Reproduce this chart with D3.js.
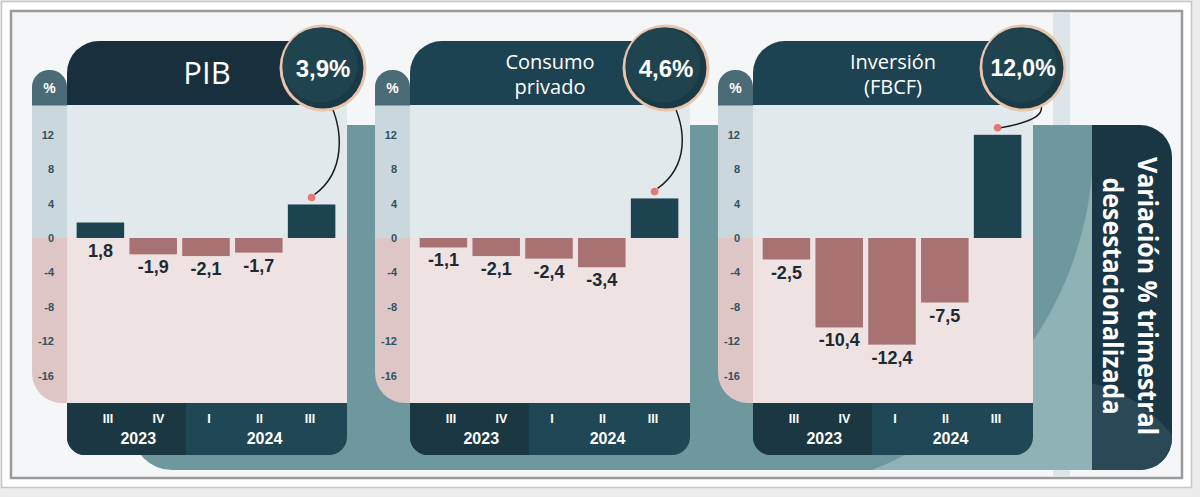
<!DOCTYPE html>
<html>
<head>
<meta charset="utf-8">
<script src="https://cdn.jsdelivr.net/npm/d3@7"></script>
<style>
  body { margin: 0; background: #fff; }
  svg { display: block; }
</style>
</head>
<body>
<div id="chart"></div>
<script>
// Datos del gráfico
const quarters = ["III", "IV", "I", "II", "III"];
const years = ["2023", "2024"];
const yearSpans = [[0, 1], [2, 4]];
const titles = [["PIB"], ["Consumo", "privado"], ["Inversión", "(FBCF)"]];
const pibValues = [1.8, -1.9, -2.1, -1.7, 3.9];
const consumoValues = [-1.1, -2.1, -2.4, -3.4, 4.6];
const inversionValues = [-2.5, -10.4, -12.4, -7.5, 12.0];
const yTicks = [12, 8, 4, 0, -4, -8, -12, -16];
const sideLabel = ["Variación % trimestral", "desestacionalizada"];

const series = [pibValues, consumoValues, inversionValues];

// Colores
const col = {
  bg: "#f4f6f8",
  teal: "#6f989e",
  tealLight: "#8fb2b7",
  stripe: "#dce5e9",
  navy: "#1a3644",
  navyLight: "#2a4855",
  tab: "#4b6b77",
  axisPos: "#cad8dd",
  axisNeg: "#dec6c6",
  plotPos: "#e2e9ec",
  plotNeg: "#efe2e2",
  bandDark: "#1a3742",
  bandLight: "#1f4755",
  barPos: "#1d4350",
  barNeg: "#a97272",
  label: "#1e2a30",
  tick: "#31525e",
  peach: "#e8c4aa",
  bubble: "#1f4450",
  bubbleShade: "#1a3b46",
  dot: "#e07a72",
};

const numFmt = d3.formatLocale({
  decimal: ",", thousands: ".", grouping: [3], currency: ["", "€"], minus: "-"
}).format(".1f");

// Rectángulo con esquinas redondeadas independientes [tl, tr, br, bl]
function roundRect(x, y, w, h, r) {
  const [tl, tr, br, bl] = r;
  return `M${x + tl},${y}H${x + w - tr}` +
    (tr ? `A${tr},${tr} 0 0 1 ${x + w},${y + tr}` : "") +
    `V${y + h - br}` +
    (br ? `A${br},${br} 0 0 1 ${x + w - br},${y + h}` : "") +
    `H${x + bl}` +
    (bl ? `A${bl},${bl} 0 0 1 ${x},${y + h - bl}` : "") +
    `V${y + tl}` +
    (tl ? `A${tl},${tl} 0 0 1 ${x + tl},${y}` : "") + "Z";
}

const width = 1200, height = 497;
const svg = d3.select("#chart").append("svg")
  .attr("width", width).attr("height", height);

// Marco
svg.append("rect").attr("x", 0).attr("y", 0).attr("width", width).attr("height", height).attr("fill", "#ececec");
svg.append("rect").attr("x", 1.5).attr("y", 1.5).attr("width", 1190).attr("height", 486)
  .attr("fill", "#fff").attr("stroke", "#c6c6c6").attr("stroke-width", 1.5);
svg.append("rect").attr("x", 11).attr("y", 11).attr("width", 1171).attr("height", 467)
  .attr("fill", col.bg).attr("stroke", "#9b9b9b").attr("stroke-width", 2.5);

// Franja clara vertical
svg.append("rect").attr("x", 1053).attr("y", 12.5).attr("width", 17).attr("height", 464)
  .attr("fill", col.stripe);

// Fondo verde azulado con el arco más claro
svg.append("clipPath").attr("id", "tealClip")
  .append("path").attr("d", roundRect(132, 125, 1040, 345, [0, 40, 40, 40]));
svg.append("path").attr("d", roundRect(132, 125, 1040, 345, [0, 40, 40, 40])).attr("fill", col.teal);
svg.append("path")
  .attr("clip-path", "url(#tealClip)")
  .attr("d", "M872,470A351,351 0 0 0 1093,160L1093,470Z")
  .attr("fill", col.tealLight);

// Caja de la etiqueta lateral
const boxPath = roundRect(1092, 125, 80, 345, [0, 32, 32, 0]);
svg.append("clipPath").attr("id", "boxClip").append("path").attr("d", boxPath);
svg.append("path").attr("d", boxPath).attr("fill", col.navy);
svg.append("path").attr("clip-path", "url(#boxClip)")
  .attr("d", "M1092,383Q1140,395 1174,437V472H1092Z").attr("fill", col.navyLight);

const sideX = [1147, 1112];
const sideLen = [278, 237];
sideLabel.forEach((t, i) => {
  svg.append("text")
    .attr("transform", `translate(${sideX[i]},296) rotate(90)`)
    .attr("text-anchor", "middle")
    .attr("dy", "0.36em")
    .attr("textLength", sideLen[i])
    .attr("lengthAdjust", "spacingAndGlyphs")
    .style("font-family", "'Open Sans', sans-serif")
    .style("font-weight", 700)
    .style("font-size", "26px")
    .style("fill", "#fff")
    .text(t);
});

// Escalas compartidas (coordenadas locales del panel)
const y = d3.scaleLinear().domain([-16, 12]).range([375.6, 134.8]);
const x = d3.scaleBand().domain(d3.range(quarters.length)).range([74, 338])
  .paddingInner(0.1).paddingOuter(0.05);
const xq = d3.scalePoint().domain(d3.range(quarters.length)).range([108, 310]);

const areaTop = 105, areaBottom = 403, bandBottom = 455;
const axisL = 32, plotL = 67, plotR = 347;
const panelStep = 343;
const bubbleX = [323, 323, 337];
const bubbleY = 68;
const bannerColor = ["#182f3d", "#1d4252", "#1d4252"];

series.forEach((values, p) => {
  const g = svg.append("g").attr("transform", `translate(${p * panelStep},0)`);
  const y0 = y(0);

  // Columna del eje
  g.append("rect").attr("x", axisL).attr("y", areaTop).attr("width", plotL - axisL)
    .attr("height", y0 - areaTop).attr("fill", col.axisPos);
  g.append("path").attr("d", roundRect(axisL, y0, plotL - axisL + 1, areaBottom - y0, [0, 0, 0, 30]))
    .attr("fill", col.axisNeg);
  g.append("path").attr("d", roundRect(axisL, 70, plotL - axisL, areaTop - 70 + 0.5, [17, 17, 0, 0]))
    .attr("fill", col.tab);
  g.append("text").attr("x", (axisL + plotL) / 2).attr("y", 88).attr("dy", "0.36em")
    .attr("text-anchor", "middle")
    .style("font-family", "'Liberation Sans', Arial, sans-serif").style("font-weight", 700)
    .style("font-size", "14px").style("fill", "#fff").text("%");

  // Área del gráfico
  g.append("rect").attr("x", plotL).attr("y", areaTop).attr("width", plotR - plotL)
    .attr("height", y0 - areaTop).attr("fill", col.plotPos);
  g.append("rect").attr("x", plotL).attr("y", y0).attr("width", plotR - plotL)
    .attr("height", areaBottom - y0).attr("fill", col.plotNeg);

  // Banda inferior con trimestres
  const split = (xq(1) + xq(2)) / 2 + 2;
  g.append("path").attr("d", roundRect(plotL, areaBottom, plotR - plotL, bandBottom - areaBottom, [0, 0, 18, 18]))
    .attr("fill", col.bandLight);
  g.append("path").attr("d", roundRect(plotL, areaBottom, split - plotL, bandBottom - areaBottom, [0, 0, 0, 18]))
    .attr("fill", col.bandDark);

  g.selectAll(".q").data(quarters).enter().append("text")
    .attr("x", (d, i) => xq(i)).attr("y", 423)
    .attr("text-anchor", "middle")
    .style("font-family", "'Liberation Sans', Arial, sans-serif").style("font-weight", 700)
    .style("font-size", "12.5px").style("fill", "#fff")
    .text((d) => d);

  g.selectAll(".yr").data(years).enter().append("text")
    .attr("x", (d, i) => (xq(yearSpans[i][0]) + xq(yearSpans[i][1])) / 2 + 5)
    .attr("y", 444)
    .attr("text-anchor", "middle")
    .style("font-family", "'Liberation Sans', Arial, sans-serif").style("font-weight", 700)
    .style("font-size", "16px").style("fill", "#fff")
    .text((d) => d);

  // Marcas del eje Y
  g.selectAll(".tick").data(yTicks).enter().append("text")
    .attr("x", 54).attr("y", (d) => y(d)).attr("dy", "0.36em")
    .attr("text-anchor", "end")
    .style("font-family", "'Liberation Sans', Arial, sans-serif").style("font-weight", 700)
    .style("font-size", "11px").style("fill", col.tick)
    .text((d) => d);

  // Barras
  g.selectAll(".bar").data(values).enter().append("rect")
    .attr("x", (d, i) => x(i))
    .attr("y", (d) => Math.min(y(d), y0))
    .attr("width", x.bandwidth())
    .attr("height", (d) => Math.abs(y(d) - y0))
    .attr("fill", (d) => (d >= 0 ? col.barPos : col.barNeg));

  // Etiquetas de valor (todas menos la última, que va en la burbuja)
  const last = values.length - 1;
  g.selectAll(".val").data(values.slice(0, last)).enter().append("text")
    .attr("x", (d, i) => x(i) + x.bandwidth() / 2)
    .attr("y", (d) => Math.max(y(d), y0) + 19)
    .attr("text-anchor", "middle")
    .style("font-family", "'Liberation Sans', Arial, sans-serif").style("font-weight", 700)
    .style("font-size", "18px").style("fill", col.label)
    .text((d) => numFmt(d));

  // Banner del título
  g.append("path").attr("d", roundRect(plotL, 41, bubbleX[p] - plotL, areaTop - 41, [32, 0, 0, 0]))
    .attr("fill", bannerColor[p]);
  const lines = titles[p];
  const titleX = 207;
  if (lines.length === 1) {
    g.append("text").attr("x", titleX).attr("y", 73).attr("dy", "0.36em")
      .attr("text-anchor", "middle")
      .style("font-family", "'Open Sans', sans-serif").style("font-weight", 400)
      .style("font-size", "31px").style("fill", "#fff").text(lines[0]);
  } else {
    lines.forEach((t, k) => {
      g.append("text").attr("x", titleX).attr("y", 62 + k * 25).attr("dy", "0.36em")
        .attr("text-anchor", "middle")
        .style("font-family", "'Open Sans', sans-serif").style("font-weight", 400)
        .style("font-size", "20px").style("fill", "#fff").text(t);
    });
  }

  // Conector desde la última barra a la burbuja
  const dotX = x(last) + x.bandwidth() / 2;
  const dotY = y(values[last]) - 7;
  const bx = bubbleX[p];
  let conn;
  if (dotY - bubbleY > 80) {
    conn = `M${bx + 4},97C${bx + 22},130 ${bx + 22},${dotY - 25} ${dotX + 3},${dotY - 3}`;
  } else {
    conn = `M${dotX + 3},${dotY}C${dotX + 30},${dotY - 5} ${bx + 24},${dotY - 12} ${bx + 17},103`;
  }
  g.append("path").attr("d", conn).attr("fill", "none")
    .attr("stroke", "#1c1c1c").attr("stroke-width", 1.5);
  g.append("circle").attr("cx", dotX).attr("cy", dotY).attr("r", 3.8).attr("fill", col.dot);

  // Burbuja con el último valor
  g.append("circle").attr("cx", bx).attr("cy", bubbleY).attr("r", 43.5).attr("fill", col.peach);
  g.append("circle").attr("cx", bx).attr("cy", bubbleY).attr("r", 40.5).attr("fill", col.bubbleShade);
  g.append("circle").attr("cx", bx - 3).attr("cy", bubbleY - 3).attr("r", 37.5).attr("fill", col.bubble);
  g.append("text").attr("x", bx).attr("y", bubbleY).attr("dy", "0.36em")
    .attr("text-anchor", "middle")
    .style("font-family", "'Liberation Sans', Arial, sans-serif").style("font-weight", 700)
    .style("font-size", p === 2 ? "23px" : "24px").style("fill", "#fff")
    .text(numFmt(values[last]) + "%");
});
</script>
</body>
</html>
